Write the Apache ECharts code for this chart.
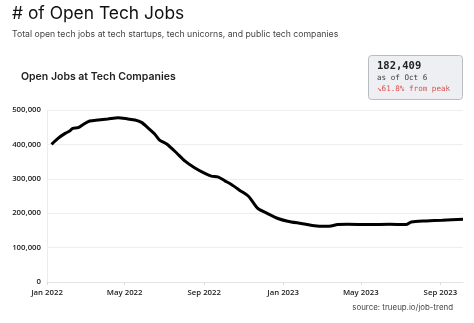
<!DOCTYPE html>
<html>
<head>
<meta charset="utf-8">
<script src="https://cdn.jsdelivr.net/npm/echarts@6/dist/echarts.min.js"></script>
<style>html,body{margin:0;padding:0;background:#fff}#c{width:474px;height:323px}</style>
</head>
<body>
<div id="c"></div>
<script>
var dates = ['2022-01-08','2022-01-18','2022-01-29','2022-02-05','2022-02-10','2022-02-18','2022-02-26','2022-03-08','2022-03-21','2022-04-05','2022-04-21','2022-05-06','2022-05-17','2022-05-27','2022-06-06','2022-06-17','2022-06-24','2022-07-05','2022-07-20','2022-08-02','2022-08-17','2022-09-02','2022-09-12','2022-09-22','2022-10-03','2022-10-13','2022-10-28','2022-11-08','2022-11-15','2022-11-23','2022-12-08','2022-12-24','2023-01-08','2023-01-29','2023-02-13','2023-02-28','2023-03-16','2023-03-26','2023-04-10','2023-05-14','2023-06-14','2023-07-10','2023-07-18','2023-08-10','2023-09-04','2023-10-06'];
var jobs = [400000,417600,432000,439000,446700,448500,458000,468000,471000,474000,477600,474000,471000,464000,448000,429000,412600,401000,375700,352000,332000,315700,307800,305800,294000,283600,264000,250000,233000,213700,199000,184600,176800,170000,165000,162000,163000,167000,168000,167000,168000,167000,174700,177600,179700,182409];
var tickMonths = ['2022-01-01','2022-05-01','2022-09-01','2023-01-01','2023-05-01','2023-09-01'];
var yTicks = [0,100000,200000,300000,400000,500000];
var monthNames = ['Jan','Feb','Mar','Apr','May','Jun','Jul','Aug','Sep','Oct','Nov','Dec'];

function ts(s){var p=s.split('-');return Date.UTC(+p[0],+p[1]-1,+p[2]);}
var tickTs = tickMonths.map(ts);

var chart = echarts.init(document.getElementById('c'), null, {renderer:'canvas'});
chart.setOption({
  animation:false,
  textStyle:{fontFamily:'Inter'},
  grid:{left:47,right:11,top:110,bottom:41,containLabel:false},
  xAxis:{
    type:'value',
    min:ts('2022-01-01'),
    max:ts('2023-10-06'),
    axisLine:{show:true,onZero:false,lineStyle:{color:'#e4e4e4',width:1}},
    axisTick:{show:true,length:3,customValues:tickTs,lineStyle:{color:'#dcdcdc'}},
    splitLine:{show:false},
    axisLabel:{
      customValues:tickTs,
      color:'#222',fontFamily:'Open Sans',fontWeight:600,fontSize:7.8,margin:7,
      formatter:function(v){var d=new Date(v);return monthNames[d.getUTCMonth()]+' '+d.getUTCFullYear();}
    }
  },
  yAxis:{
    type:'value',min:0,max:500000,interval:100000,
    axisLine:{show:true,lineStyle:{color:'#ececec'}},
    axisTick:{show:false},
    splitLine:{show:true,lineStyle:{color:'#eeeeee',width:1}},
    axisLabel:{color:'#222',fontFamily:'Open Sans',fontWeight:600,fontSize:7.8,margin:6,
      formatter:function(v){return v.toLocaleString('en-US');}}
  },
  series:[{
    type:'line',
    data:dates.map(function(d,i){return [ts(d),jobs[i]];}),
    showSymbol:false,
    smooth:0.25,
    lineStyle:{color:'#000',width:3},
    itemStyle:{color:'#000'}
  }],
  graphic:[
    {type:'text',left:12,top:5,style:{text:'# of Open Tech Jobs',font:'400 17.4px Inter',fill:'#111'}},
    {type:'text',left:12,top:30,style:{text:'Total open tech jobs at tech startups, tech unicorns, and public tech companies',font:'400 8.7px Inter',fill:'#444'}},
    {type:'text',left:21,top:71,style:{text:'Open Jobs at Tech Companies',font:'600 10.5px Inter',fill:'#222'}},
    {type:'rect',shape:{x:368.5,y:55.5,width:94,height:44,r:3},style:{fill:'#edeff2',stroke:'#b9bcc0',lineWidth:1}},
    {type:'text',x:377,y:60.5,style:{text:'182,409',font:'700 10.5px "DejaVu Sans Mono"',fill:'#222'}},
    {type:'text',x:377,y:74.5,style:{text:'as of Oct 6',font:'400 7.6px "DejaVu Sans Mono"',fill:'#444'}},
    {type:'text',x:377,y:85.5,style:{text:'\u219861.8% from peak',font:'400 7.6px "DejaVu Sans Mono"',fill:'#d9534f'}},
    {type:'text',right:21,top:304,style:{text:'source: trueup.io/job-trend',font:'400 7.9px Inter',fill:'#444'}}
  ]
});
</script>
</body>
</html>
